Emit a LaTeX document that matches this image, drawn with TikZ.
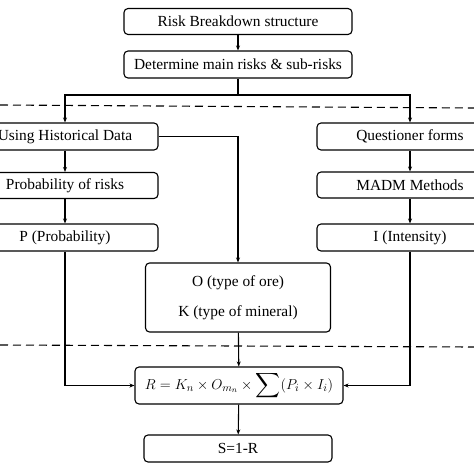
\documentclass[tikz,border=0pt]{standalone}
\usepackage{amsmath}
\usepackage{exscale}
\usepackage{fontspec}
\usepackage{graphicx}
\setmainfont{Liberation Serif}
\usetikzlibrary{arrows.meta}
\newcommand{\bigsumsym}{\mathop{\vcenter{\hbox{\scalebox{1.2}{$\displaystyle\sum$}}}}}
\begin{document}
\begin{tikzpicture}[x=1pt,y=-1pt,
  box/.style={draw,line width=1.1pt,rounded corners=4pt,inner sep=0pt,align=center,font=\fontsize{15.4}{18}\selectfont},
  arr/.style={line width=1.1pt,-{Stealth[length=5pt,width=4pt]}},
  ln/.style={line width=1.1pt},
  sep/.style={line width=1.1pt,dash pattern=on 8pt off 5pt}]
\useasboundingbox (0,0) rectangle (474,474);
\node[box,minimum width=228pt,minimum height=26pt] (rb) at (238,21.5) {Risk Breakdown structure};
\node[box,minimum width=228pt,minimum height=27pt] (dm) at (238,64.5) {Determine main risks \& sub-risks};
\coordinate (split) at (238,95);
\node[box,minimum width=186pt,minimum height=27pt] (uh) at (65,136.5) {Using Historical Data};
\node[box,minimum width=186pt,minimum height=27pt] (qf) at (410,136.5) {Questioner forms};
\node[box,minimum width=186pt,minimum height=26pt] (pr) at (65,185.5) {Probability of risks};
\node[box,minimum width=186pt,minimum height=26pt] (md) at (410,185) {MADM Methods};
\node[box,minimum width=186pt,minimum height=27pt] (P) at (65,237.5) {P (Probability)};
\node[box,minimum width=186pt,minimum height=27pt] (I) at (410,237.5) {I (Intensity)};
\node[box,minimum width=185pt,minimum height=69pt] (ok) at (238,297.5) {O (type of ore)\\[12pt]K (type of mineral)};
\node[box,minimum width=208pt,minimum height=37pt] (R) at (239,385.5) {$R = K_n \times O_{m_n} \times \bigsumsym (P_i \times I_i)$};
\node[box,minimum width=188pt,minimum height=27pt] (S) at (238,448.5) {S=1-R};
\draw[sep] (0,105) -- (474,108);
\draw[sep] (0,345) -- (474,347);
\draw[arr] (rb) -- (dm);
\draw[ln] (dm) -- (split);
\draw[arr] (split) -| (uh);
\draw[arr] (split) -| (qf);
\draw[arr] (uh) -- (pr);
\draw[arr] (pr) -- (P);
\draw[arr] (qf) -- (md);
\draw[arr] (md) -- (I);
\draw[arr] (uh.east) -| (ok.north);
\draw[arr] (P) |- (R);
\draw[arr] (I) |- (R);
\draw[arr] (ok) -- (R);
\draw[arr] (R) -- (S);
\end{tikzpicture}
\end{document}
